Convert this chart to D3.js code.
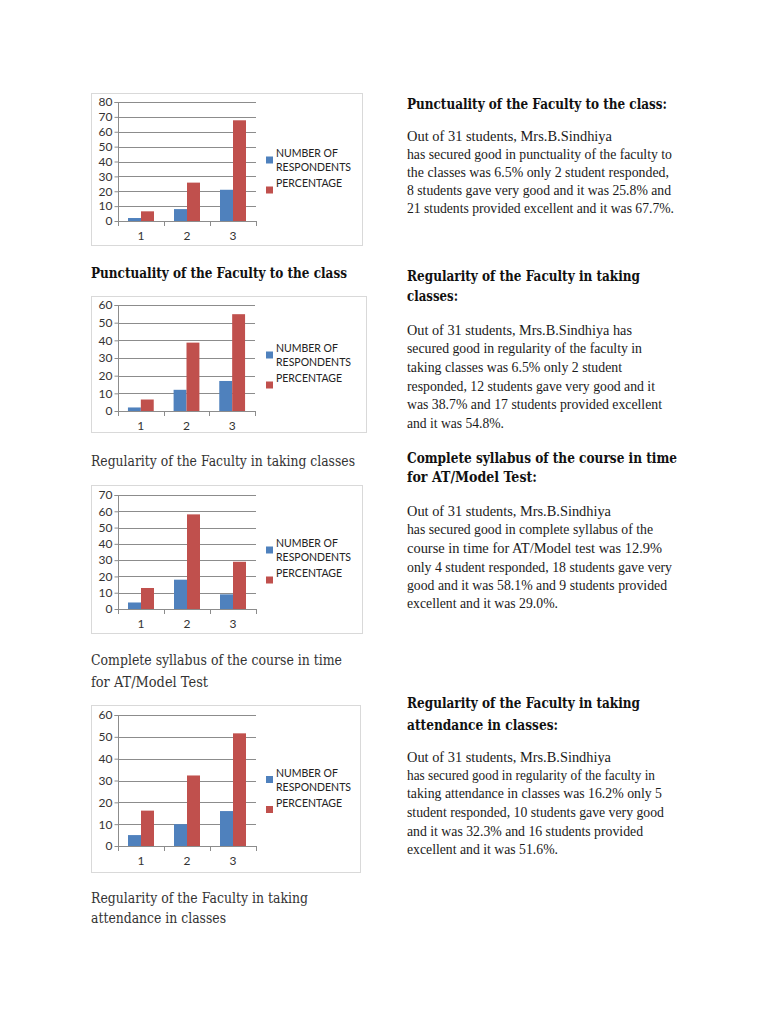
<!DOCTYPE html>
<html><head><meta charset="utf-8">
<script src="https://cdn.jsdelivr.net/npm/d3@7"></script>
<style>html,body{margin:0;padding:0;background:#fff;}svg{display:block;}</style>
</head><body>
<script>
// ---------- DATA ----------
const categories = ["1", "2", "3"];
const seriesNames = ["NUMBER OF RESPONDENTS", "PERCENTAGE"];
const punctualityRespondents = [2, 8, 21];
const punctualityPercentage = [6.5, 25.8, 67.7];
const regularityRespondents = [2, 12, 17];
const regularityPercentage = [6.5, 38.7, 54.8];
const syllabusRespondents = [4, 18, 9];
const syllabusPercentage = [12.9, 58.1, 29.0];
const attendanceRespondents = [5, 10, 16];
const attendancePercentage = [16.2, 32.3, 51.6];
const yAxisMax = [80, 60, 70, 60];
const yTickStep = 10;

const captions = [
  ["Punctuality of the Faculty to the class"],
  ["Regularity of the Faculty in taking classes"],
  ["Complete syllabus of the course in time", "for AT/Model Test"],
  ["Regularity of the Faculty in taking", "attendance in classes"]
];
const headings = [
  ["Punctuality of the Faculty to the class:"],
  ["Regularity of the Faculty in taking", "classes:"],
  ["Complete syllabus of the course in time", "for AT/Model Test:"],
  ["Regularity of the Faculty in taking", "attendance in classes:"]
];
const bodies = [
  ["Out of 31 students, Mrs.B.Sindhiya",
   "has secured good in punctuality of the faculty to",
   "the classes was 6.5% only 2 student responded,",
   "8 students gave very good and it was 25.8% and",
   "21 students provided excellent and it was 67.7%."],
  ["Out of 31 students, Mrs.B.Sindhiya has",
   "secured good in regularity of the faculty in",
   "taking classes was 6.5% only 2 student",
   "responded, 12 students gave very good and it",
   "was 38.7% and 17 students provided excellent",
   "and it was 54.8%."],
  ["Out of 31 students, Mrs.B.Sindhiya",
   "has secured good in complete syllabus of the",
   "course in time for AT/Model test was 12.9%",
   "only 4 student responded, 18 students gave very",
   "good and it was 58.1% and 9 students provided",
   "excellent and it was 29.0%."],
  ["Out of 31 students, Mrs.B.Sindhiya",
   "has secured good in regularity of the faculty in",
   "taking attendance in classes was 16.2% only 5",
   "student responded, 10 students gave very good",
   "and it was 32.3% and 16 students provided",
   "excellent and it was 51.6%."]
];

const chartData = [
  [punctualityRespondents, punctualityPercentage],
  [regularityRespondents, regularityPercentage],
  [syllabusRespondents, syllabusPercentage],
  [attendanceRespondents, attendancePercentage]
];

// ---------- LAYOUT ----------
const colors = ["#4F81BD", "#C0504D"];
const chartLayout = [
  {box: [91, 93, 362, 245], plot: [118, 102, 256, 221]},
  {box: [91, 296, 366, 432], plot: [118, 305, 255, 411]},
  {box: [91, 485, 362, 633], plot: [118, 495, 256, 609]},
  {box: [91, 705, 360, 872], plot: [118, 715, 256, 846]}
];
const captionLayout = [
  {y: [272], w: [256]},
  {y: [461], w: [264]},
  {y: [660, 682], w: [251, 117]},
  {y: [898, 918], w: [217, 135]}
];
const headingLayout = [
  {y: [103], w: [260]},
  {y: [275, 295], w: [233, 51]},
  {y: [457, 476], w: [270, 130]},
  {y: [702, 724], w: [233, 151]}
];
const bodyLayout = [
  {y: [136, 154, 172, 190, 208], w: [205, 265, 262, 264, 267]},
  {y: [330, 348, 367, 386, 404, 423], w: [225, 235, 215, 248, 255, 97]},
  {y: [511, 529, 548, 567, 585, 603], w: [204, 246, 255, 265, 260, 151]},
  {y: [757, 775, 793, 812, 831, 849], w: [204, 248, 255, 257, 236, 151]}
];

const svg = d3.select("body").append("svg")
  .attr("width", 768).attr("height", 1024)
  .style("background", "#fff");

const chartFont = "Lato, 'Open Sans', sans-serif";

chartLayout.forEach((L, i) => {
  const g = svg.append("g");
  const [bx0, by0, bx1, by1] = L.box;
  const [px0, py0, px1, py1] = L.plot;
  g.append("rect").attr("x", bx0 + 0.5).attr("y", by0 + 0.5)
    .attr("width", bx1 - bx0).attr("height", by1 - by0)
    .attr("fill", "#fff").attr("stroke", "#d9d9d9").attr("stroke-width", 1);

  const y = d3.scaleLinear().domain([0, yAxisMax[i]]).range([py1, py0]);
  const x = d3.scaleBand().domain(categories).range([px0, px1])
    .paddingInner(0.435).paddingOuter(0.2175);
  const xs = d3.scaleBand().domain(d3.range(seriesNames.length)).range([0, x.bandwidth()]);
  const ticks = d3.range(0, yAxisMax[i] + 0.001, yTickStep);

  // gridlines
  g.append("g").selectAll("line").data(ticks.filter(t => t > 0)).join("line")
    .attr("x1", px0).attr("x2", px1)
    .attr("y1", d => Math.round(y(d)) + 0.5).attr("y2", d => Math.round(y(d)) + 0.5)
    .attr("stroke", "#8c8c8c").attr("stroke-width", 1);

  // bars
  chartData[i].forEach((vals, s) => {
    g.append("g").selectAll("rect").data(vals).join("rect")
      .attr("x", (d, k) => x(categories[k]) + xs(s))
      .attr("width", xs.bandwidth())
      .attr("y", d => y(d))
      .attr("height", d => y(0) - y(d))
      .attr("fill", colors[s]);
  });

  // y axis
  const ya = g.append("g").attr("transform", `translate(${px0 + 0.5},0)`)
    .call(d3.axisLeft(y).tickValues(ticks).tickSize(4).tickPadding(2).tickFormat(d3.format("d")));
  ya.select(".domain").attr("stroke", "#8c8c8c").attr("d", `M-4,${Math.round(py0) + 0.5}H0V${py1 + 0.5}`);
  ya.selectAll(".tick line").attr("stroke", "#8c8c8c");
  ya.selectAll(".tick text").attr("font-family", chartFont).attr("font-size", 12).attr("fill", "#333");

  // x axis
  const xa = g.append("g").attr("transform", `translate(0,${Math.round(py1) + 0.5})`)
    .call(d3.axisBottom(x).tickSize(0).tickPadding(10));
  xa.select(".domain").attr("stroke", "#8c8c8c").attr("d", `M${px0},0H${px1}`);
  xa.selectAll(".tick text").attr("font-family", chartFont).attr("font-size", 12).attr("fill", "#333");
  const bounds = categories.map(c => x(c) - x.step() * x.paddingInner() / 2).concat([px1]);
  g.append("g").selectAll("line").data(bounds).join("line")
    .attr("x1", d => Math.round(d) + 0.5).attr("x2", d => Math.round(d) + 0.5)
    .attr("y1", Math.round(py1)).attr("y2", Math.round(py1) + 5)
    .attr("stroke", "#8c8c8c");

  // legend
  const cy = (by0 + by1) / 2;
  const lg = g.append("g").attr("font-family", chartFont).attr("font-size", 10.5).attr("fill", "#222");
  const entries = [
    {lines: ["NUMBER OF", "RESPONDENTS"], top: cy - 16},
    {lines: ["PERCENTAGE", ""], top: cy + 14}
  ];
  entries.forEach((e, s) => {
    e.lines.forEach((t, k) => {
      if (t) lg.append("text").attr("x", 276).attr("y", e.top + k * 14)
        .attr("dominant-baseline", "central").text(t);
    });
    lg.append("rect").attr("x", 266).attr("y", e.top + 7 - 3.5)
      .attr("width", 7).attr("height", 7).attr("fill", colors[s]);
  });
});

// captions under charts
const captionFont = "'DejaVu Serif', serif";
captions.forEach((lines, i) => {
  lines.forEach((t, k) => {
    svg.append("text").attr("x", 91).attr("y", captionLayout[i].y[k])
      .attr("dominant-baseline", "central")
      .attr("font-family", captionFont).attr("font-size", 14.5)
      .attr("font-weight", i === 0 ? "bold" : "normal")
      .attr("fill", i === 0 ? "#111" : "#333")
      .attr("textLength", captionLayout[i].w[k]).attr("lengthAdjust", "spacingAndGlyphs")
      .text(t);
  });
});

// right column
headings.forEach((lines, i) => {
  lines.forEach((t, k) => {
    svg.append("text").attr("x", 407).attr("y", headingLayout[i].y[k])
      .attr("dominant-baseline", "central")
      .attr("font-family", captionFont).attr("font-size", 14.5).attr("font-weight", "bold")
      .attr("fill", "#111")
      .attr("textLength", headingLayout[i].w[k]).attr("lengthAdjust", "spacingAndGlyphs")
      .text(t);
  });
});
bodies.forEach((lines, i) => {
  lines.forEach((t, k) => {
    svg.append("text").attr("x", 407).attr("y", bodyLayout[i].y[k])
      .attr("dominant-baseline", "central")
      .attr("font-family", "'Liberation Serif', 'Times New Roman', serif").attr("font-size", 14)
      .attr("fill", "#1a1a1a")
      .attr("textLength", bodyLayout[i].w[k]).attr("lengthAdjust", "spacingAndGlyphs")
      .text(t);
  });
});
</script>
</body></html>
